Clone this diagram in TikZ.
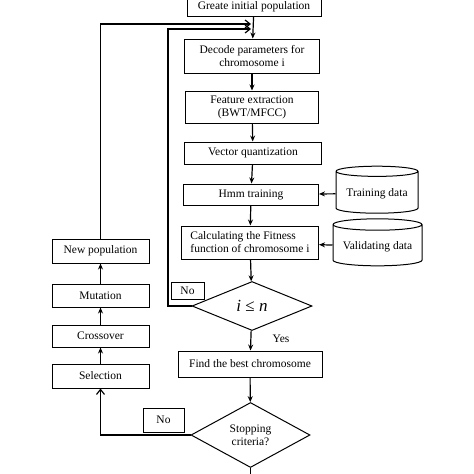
\documentclass[tikz,border=0pt]{standalone}
\usepackage{fontspec}
\setmainfont{Liberation Serif}
\usetikzlibrary{shapes.geometric,arrows.meta}

\begin{document}
\begin{tikzpicture}[x=1pt,y=-1pt,
  font=\fontsize{11.5}{13}\selectfont,
  box/.style={draw,line width=1pt,minimum width=#1,inner sep=2pt},
  box/.default=135pt,
  decision/.style={draw,line width=1pt,diamond,inner sep=0pt},
  datastore/.style={draw,line width=1pt,cylinder,shape border rotate=90,
    aspect=.15,minimum width=82pt,minimum height=47pt},
  nobox/.style={draw,line width=1pt,inner sep=3pt},
  arr/.style={line width=1.2pt,-{Stealth[length=6pt,width=5pt]}},
  openarr/.style={line width=1.2pt,-{Straight Barb[length=5pt,width=8pt]}}]
\useasboundingbox (0,0) rectangle (474,474);
\node[box=134pt,minimum height=20pt] (init) at (254,6.5) {Greate initial population};
\node[box,minimum height=34pt,align=center] (decode) at (252,56) {Decode parameters for\\chromosome i};
\node[box=133pt,minimum height=32pt,align=center] (feat) at (252,107) {Feature extraction\\(BWT/MFCC)};
\node[box=137pt,minimum height=22pt] (vq) at (253,153) {Vector quantization};
\node[box,minimum height=21pt] (hmm) at (251,194.5) {Hmm training};
\node[box=137pt,minimum height=33pt,align=left] (fit) at (250,242.5) {Calculating the Fitness\\function of chromosome i};
\node[decision,minimum width=120pt,minimum height=49pt] (leq) at (252,306) {\fontsize{17}{17}\selectfont\textit{i} ≤ \textit{n}};
\node[box=144pt,minimum height=26pt] (best) at (250,364) {Find the best chromosome};
\node[decision,minimum width=119pt,minimum height=65pt,align=center] (stop) at (250.5,435) {Stopping\\criteria?};
\node[datastore] (train) at (377,193.5) {Training data};
\node[datastore,minimum width=89pt] (valid) at (377.5,246.5) {Validating data};
\node[box=97pt,minimum height=24pt] (newpop) at (100.5,251) {New population};
\node[box=97pt,minimum height=23pt] (mut) at (100.5,295.5) {Mutation};
\node[box=97pt,minimum height=22pt] (cross) at (100.5,336) {Crossover};
\node[box=97pt,minimum height=24pt] (sel) at (100.5,376) {Selection};
\node[nobox,minimum width=33pt,minimum height=17pt] (no1) at (187.5,290.5) {No};
\node[nobox,minimum width=41pt,minimum height=24pt] (no2) at (163.5,420) {No};
\node (yes) at (281,339) {Yes};
\coordinate (inA) at (251,24);
\coordinate (inB) at (251,29);
\coordinate (loopB) at (168,306);
\coordinate (out) at (250.5,490);
\draw[arr] (init) -- (decode);
\draw[arr] (decode) -- (feat);
\draw[arr] (feat) -- (vq);
\draw[arr] (vq) -- (hmm);
\draw[arr] (hmm) -- (fit);
\draw[arr] (fit) -- (leq);
\draw[arr] (leq) -- (best);
\draw[arr] (best) -- (stop);
\draw[line width=1.2pt] (stop) -- (out);
\draw[arr] (train) -- (hmm);
\draw[arr] (valid) -- (fit);
\draw[arr] (sel) -- (cross);
\draw[arr] (cross) -- (mut);
\draw[arr] (mut) -- (newpop);
\draw[openarr] (newpop) |- (inA);
\draw[openarr] (leq.west) -- (loopB) |- (inB);
\draw[openarr] (stop.west) -| (sel.south);
\end{tikzpicture}
\end{document}
